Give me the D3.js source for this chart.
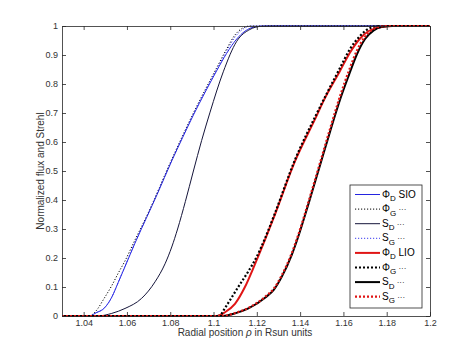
<!DOCTYPE html>
<html><head><meta charset="utf-8">
<script src="https://cdn.jsdelivr.net/npm/d3@7"></script>
<style>body{margin:0;background:#fff}svg{display:block}</style>
</head><body><svg id="c" width="474" height="355"></svg>
<script>
// ---- data ----
const xTicks = [1.04,1.06,1.08,1.1,1.12,1.14,1.16,1.18,1.2];
const yTicks = [0,0.1,0.2,0.3,0.4,0.5,0.6,0.7,0.8,0.9,1];
const xLabels = ["1.04","1.06","1.08","1.1","1.12","1.14","1.16","1.18","1.2"];
const yLabels = ["0","0.1","0.2","0.3","0.4","0.5","0.6","0.7","0.8","0.9","1"];

const sioPhiD = [[1.03,0],[1.043,0],[1.0452,0.009],[1.0499,0.03],[1.053,0.065],[1.056,0.116],[1.0591,0.17],[1.0637,0.251],[1.0696,0.348],[1.074,0.42],[1.0807,0.535],[1.0857,0.615],[1.0907,0.693],[1.096,0.77],[1.1014,0.845],[1.106,0.905],[1.1107,0.955],[1.1145,0.982],[1.1168,0.992],[1.12,0.998],[1.124,1],[1.2,1]];
const sioPhiG = [[1.03,0],[1.0425,0],[1.044,0.005],[1.0465,0.025],[1.049,0.055],[1.053,0.105],[1.056,0.148],[1.0591,0.19],[1.0637,0.262],[1.0696,0.352],[1.0807,0.54],[1.0907,0.70],[1.1014,0.855],[1.106,0.92],[1.110,0.97],[1.1135,0.993],[1.117,1],[1.2,1]];
const sioSD  = [[1.03,0],[1.0465,0],[1.053,0.009],[1.0591,0.026],[1.0668,0.061],[1.073,0.118],[1.0776,0.18],[1.0807,0.238],[1.0834,0.3],[1.087,0.395],[1.0907,0.5],[1.0945,0.605],[1.0984,0.703],[1.1045,0.842],[1.1107,0.947],[1.1168,0.988],[1.122,0.999],[1.126,1],[1.2,1]];
const sioSG  = [[1.03,0],[1.043,0],[1.0452,0.009],[1.0499,0.03],[1.053,0.065],[1.056,0.117],[1.0591,0.172],[1.0637,0.253],[1.0696,0.35],[1.0807,0.538],[1.0907,0.697],[1.1014,0.85],[1.106,0.913],[1.110,0.963],[1.1138,0.99],[1.1175,1],[1.2,1]];
const lioPhiD = [[1.03,0],[1.1015,0],[1.1053,0.013],[1.1099,0.042],[1.1145,0.1],[1.1191,0.178],[1.1238,0.263],[1.128,0.343],[1.1376,0.533],[1.1476,0.69],[1.1507,0.74],[1.1584,0.845],[1.163,0.908],[1.1676,0.956],[1.1715,0.982],[1.1754,0.993],[1.18,0.999],[1.183,1],[1.2,1]];
const lioPhiG = [[1.03,0],[1.102,0],[1.1035,0.006],[1.105,0.024],[1.1068,0.045],[1.1114,0.1],[1.116,0.153],[1.12,0.205],[1.1238,0.268],[1.128,0.347],[1.1376,0.538],[1.1476,0.697],[1.1584,0.855],[1.163,0.92],[1.1676,0.965],[1.171,0.988],[1.175,0.998],[1.178,1],[1.2,1]];
const lioSD  = [[1.03,0],[1.1045,0],[1.1099,0.009],[1.1161,0.026],[1.1238,0.063],[1.128,0.092],[1.1315,0.135],[1.1361,0.21],[1.1392,0.275],[1.144,0.39],[1.149,0.515],[1.1538,0.635],[1.1584,0.745],[1.1625,0.83],[1.1661,0.9],[1.170,0.955],[1.174,0.985],[1.178,0.997],[1.182,1],[1.2,1]];
const lioSG  = [[1.03,0],[1.1045,0],[1.1099,0.01],[1.1161,0.028],[1.1238,0.066],[1.128,0.096],[1.1315,0.14],[1.1361,0.216],[1.1392,0.281],[1.144,0.397],[1.149,0.523],[1.1538,0.645],[1.1584,0.757],[1.1625,0.845],[1.1661,0.913],[1.170,0.963],[1.1735,0.988],[1.177,0.998],[1.181,1],[1.2,1]];

const seriesNames = ["sioPhiD","sioPhiG","sioSD","sioSG","lioPhiD","lioPhiG","lioSD","lioSG"];
const legendSym = ["Φ","Φ","S","S","Φ","Φ","S","S"];
const legendSub = ["D","G","D","G","D","G","D","G"];
const legendTail = [" SIO"," ···"," ···"," ···"," LIO"," ···"," ···"," ···"];

// ---- styles ----
const dataMap = {sioPhiD,sioPhiG,sioSD,sioSG,lioPhiD,lioPhiG,lioSD,lioSG};
const styles = {
  sioPhiD:{c:"#2424e0",w:1,d:null},
  sioPhiG:{c:"#000",w:1,d:"1.2,1.8"},
  sioSD:{c:"#15153a",w:1,d:null},
  sioSG:{c:"#3a3af0",w:1,d:"1.2,1.8"},
  lioPhiD:{c:"#e01515",w:2,d:null},
  lioPhiG:{c:"#000",w:2.2,d:"2,2"},
  lioSD:{c:"#000",w:2,d:null},
  lioSG:{c:"#e01515",w:2.2,d:"2,2"}
};
const drawOrder = ["sioPhiD","sioSD","sioPhiG","sioSG","lioPhiD","lioSD","lioPhiG","lioSG"];

const L=62,R=430,T=26,B=316;
const svg=d3.select("#c");
const x=d3.scaleLinear().domain([1.03,1.2]).range([L,R]);
const y=d3.scaleLinear().domain([0,1]).range([B,T]);
const axCol="#262626", txtCol="#333";
const font="'Liberation Sans', Arial, sans-serif";

const plot=svg.append("g");
plot.append("clipPath").attr("id","clp").append("rect").attr("x",L).attr("y",T-2).attr("width",R-L).attr("height",B-T+3);

const line=d3.line().x(d=>x(d[0])).y(d=>y(d[1])).curve(d3.curveMonotoneX);
const lines=plot.append("g").attr("clip-path","url(#clp)");
drawOrder.forEach(k=>{
  const s=styles[k];
  lines.append("path").attr("d",line(dataMap[k])).attr("fill","none")
    .attr("stroke",s.c).attr("stroke-width",s.w).attr("stroke-dasharray",s.d);
});

// axes (box with inward ticks)
const tl=4;
function styleAx(g){g.select(".domain").attr("stroke",axCol).attr("stroke-width",0.8);
  g.selectAll(".tick line").attr("stroke",axCol).attr("stroke-width",0.8);
  g.selectAll("text").attr("fill",txtCol).style("font-family",font).style("font-size","9px");}
const xb=svg.append("g").attr("transform",`translate(0,${B})`)
  .call(d3.axisBottom(x).tickValues(xTicks).tickFormat((d,i)=>xLabels[i]).tickSizeInner(-tl).tickSizeOuter(0).tickPadding(4));
styleAx(xb);
const xt=svg.append("g").attr("transform",`translate(0,${T})`)
  .call(d3.axisTop(x).tickValues(xTicks).tickFormat("").tickSizeInner(-tl).tickSizeOuter(0));
styleAx(xt);
const yl=svg.append("g").attr("transform",`translate(${L},0)`)
  .call(d3.axisLeft(y).tickValues(yTicks).tickFormat((d,i)=>yLabels[i]).tickSizeInner(-tl).tickSizeOuter(0).tickPadding(4));
styleAx(yl);
const yr=svg.append("g").attr("transform",`translate(${R},0)`)
  .call(d3.axisRight(y).tickValues(yTicks).tickFormat("").tickSizeInner(-tl).tickSizeOuter(0));
styleAx(yr);

// axis labels
const xlab=svg.append("text").attr("x",245).attr("y",336).attr("text-anchor","middle")
  .attr("fill",txtCol).style("font-family",font).style("font-size","10px");
xlab.append("tspan").text("Radial position ");
xlab.append("tspan").text("ρ").style("font-style","italic");
xlab.append("tspan").text(" in Rsun units");
svg.append("text").attr("transform",`translate(44,171) rotate(-90)`).attr("text-anchor","middle")
  .attr("fill",txtCol).style("font-family",font).style("font-size","10px").text("Normalized flux and Strehl");

// legend
const lg=svg.append("g");
lg.append("rect").attr("x",350).attr("y",185).attr("width",72).attr("height",123)
  .attr("fill","#fff").attr("stroke",axCol).attr("stroke-width",0.8);
seriesNames.forEach((k,i)=>{
  const s=styles[k]; const yy=194.5+i*14.6;
  lg.append("line").attr("x1",355).attr("x2",380).attr("y1",yy).attr("y2",yy)
    .attr("stroke",s.c).attr("stroke-width",s.w).attr("stroke-dasharray",s.d);
  const t=lg.append("text").attr("x",382).attr("y",yy+3).attr("fill","#000")
    .style("font-family",font).style("font-size","10px");
  t.append("tspan").text(legendSym[i]);
  t.append("tspan").text(legendSub[i]).attr("dy",3.5).style("font-size","8px");
  t.append("tspan").text(legendTail[i]).attr("dy",-3.5).style("font-size", i%4===0?"10px":"8px");
});
</script></body></html>
